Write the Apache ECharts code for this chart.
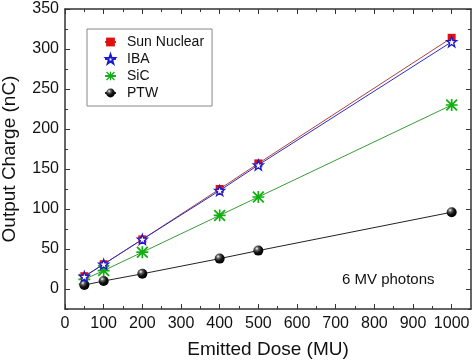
<!DOCTYPE html>
<html><head><meta charset="utf-8">
<script src="https://cdn.jsdelivr.net/npm/echarts@6/dist/echarts.min.js"></script>
<style>html,body{margin:0;padding:0;background:#fff}#c{width:474px;height:361px}</style>
</head><body><div id="c"></div>
<script>
const doses = [50, 100, 200, 400, 500, 1000];
const sunNuclear = [16, 31, 62, 125, 157, 314];
const iba = [15.5, 31, 62, 123, 155, 309];
const sic = [12, 23, 46, 92, 115, 230];
const ptw = [5, 10, 19, 38, 48, 96];
const seriesNames = ['Sun Nuclear', 'IBA', 'SiC', 'PTW'];
const xTicks = [0, 100, 200, 300, 400, 500, 600, 700, 800, 900, 1000];
const xMinorTicks = [50, 150, 250, 350, 450, 550, 650, 750, 850, 950];
const yTicks = [0, 50, 100, 150, 200, 250, 300, 350];
const yMinorTicks = [-25, 25, 75, 125, 175, 225, 275, 325];

const pair = v => doses.map((d, i) => [d, v[i]]);
const starPath = 'path://M10,0 L12.35,6.76 L19.51,6.91 L13.8,11.24 L15.88,18.09 L10,14 L4.12,18.09 L6.2,11.24 L0.49,6.91 L7.65,6.76 Z';
const asterPath = 'path://M0,8.6 L20,8.6 L20,11.4 L0,11.4 Z M8.6,0 L11.4,0 L11.4,20 L8.6,20 Z M2.06,-0.06 L20.06,17.94 L17.94,20.06 L-0.06,2.06 Z M20.06,2.06 L2.06,20.06 L-0.06,17.94 L17.94,-0.06 Z';
const ball = new echarts.graphic.RadialGradient(0.35, 0.3, 0.7, [
  {offset: 0, color: '#ffffff'}, {offset: 0.25, color: '#666'}, {offset: 0.6, color: '#111'}, {offset: 1, color: '#000'}]);

const font = 'Arial, "Liberation Sans", sans-serif';
const chart = echarts.init(document.getElementById('c'), null, {renderer: 'canvas'});
const lineC = '#333';
function mkAxis(type, pos, min, max, interval, ticks, len, showLine, label) {
  return {
    type: 'value', min, max, interval, position: pos,
    axisLine: {show: showLine, onZero: false, lineStyle: {color: lineC, width: 1.5}},
    axisTick: {show: true, inside: true, length: len, customValues: ticks, lineStyle: {color: lineC}},
    axisLabel: label ? Object.assign({customValues: ticks, color: '#111', fontSize: 16, fontFamily: font, formatter: v => String(v)}, label) : {show: false},
    splitLine: {show: false}
  };
}
const xMain = mkAxis('x', 'bottom', 0, 1050, 50, xTicks, 5, true, {margin: 7});
Object.assign(xMain, {name: 'Emitted Dose (MU)', nameLocation: 'middle', nameGap: 31,
  nameTextStyle: {color: '#111', fontSize: 19, fontFamily: font}});
const yMain = mkAxis('y', 'left', -25, 350, 25, yTicks, 5, true, {margin: 6});
Object.assign(yMain, {name: 'Output Charge (nC)', nameLocation: 'middle', nameGap: 46,
  nameTextStyle: {color: '#111', fontSize: 19, fontFamily: font}});

chart.setOption({
  animation: false,
  grid: {left: 65, right: 3, top: 9, bottom: 52, containLabel: false, outerBoundsMode: 'none'},
  xAxis: [
    xMain,
    mkAxis('x', 'bottom', 0, 1050, 50, xMinorTicks, 3, false, null),
    mkAxis('x', 'top', 0, 1050, 50, xTicks, 5, true, null),
    mkAxis('x', 'top', 0, 1050, 50, xMinorTicks, 3, false, null)
  ],
  yAxis: [
    yMain,
    mkAxis('y', 'left', -25, 350, 25, yMinorTicks, 3, false, null),
    mkAxis('y', 'right', -25, 350, 25, yTicks, 5, true, null),
    mkAxis('y', 'right', -25, 350, 25, yMinorTicks, 3, false, null)
  ],
  legend: {
    orient: 'vertical', left: 87, top: 29,
    padding: [6, 8, 6, 17], itemGap: 3, itemWidth: 11, itemHeight: 11,
    borderColor: '#888', borderWidth: 1, backgroundColor: '#fff',
    textStyle: {color: '#111', fontSize: 14, fontFamily: font, padding: [0, 0, 0, 6]},
    data: seriesNames
  },
  graphic: [{type: 'text', left: 342, top: 272,
    style: {text: '6 MV photons', fill: '#111', font: '15px ' + font}}],
  series: [
    {name: seriesNames[0], type: 'line', data: pair(sunNuclear), symbol: 'rect', symbolSize: 8,
      itemStyle: {color: '#e01010'}, lineStyle: {color: '#b04040', width: 1}, z: 3},
    {name: seriesNames[1], type: 'line', data: pair(iba), symbol: starPath, symbolSize: 10,
      itemStyle: {color: '#fff', borderColor: '#1a1ad0', borderWidth: 1.3}, lineStyle: {color: '#2a2ac8', width: 1}, z: 4},
    {name: seriesNames[2], type: 'line', data: pair(sic), symbol: asterPath, symbolSize: 12,
      itemStyle: {color: '#10b010'}, lineStyle: {color: '#3a9a3a', width: 1}, z: 3},
    {name: seriesNames[3], type: 'line', data: pair(ptw), symbol: 'circle', symbolSize: 10,
      itemStyle: {color: ball}, lineStyle: {color: '#222', width: 1}, z: 3}
  ]
});
</script></body></html>
